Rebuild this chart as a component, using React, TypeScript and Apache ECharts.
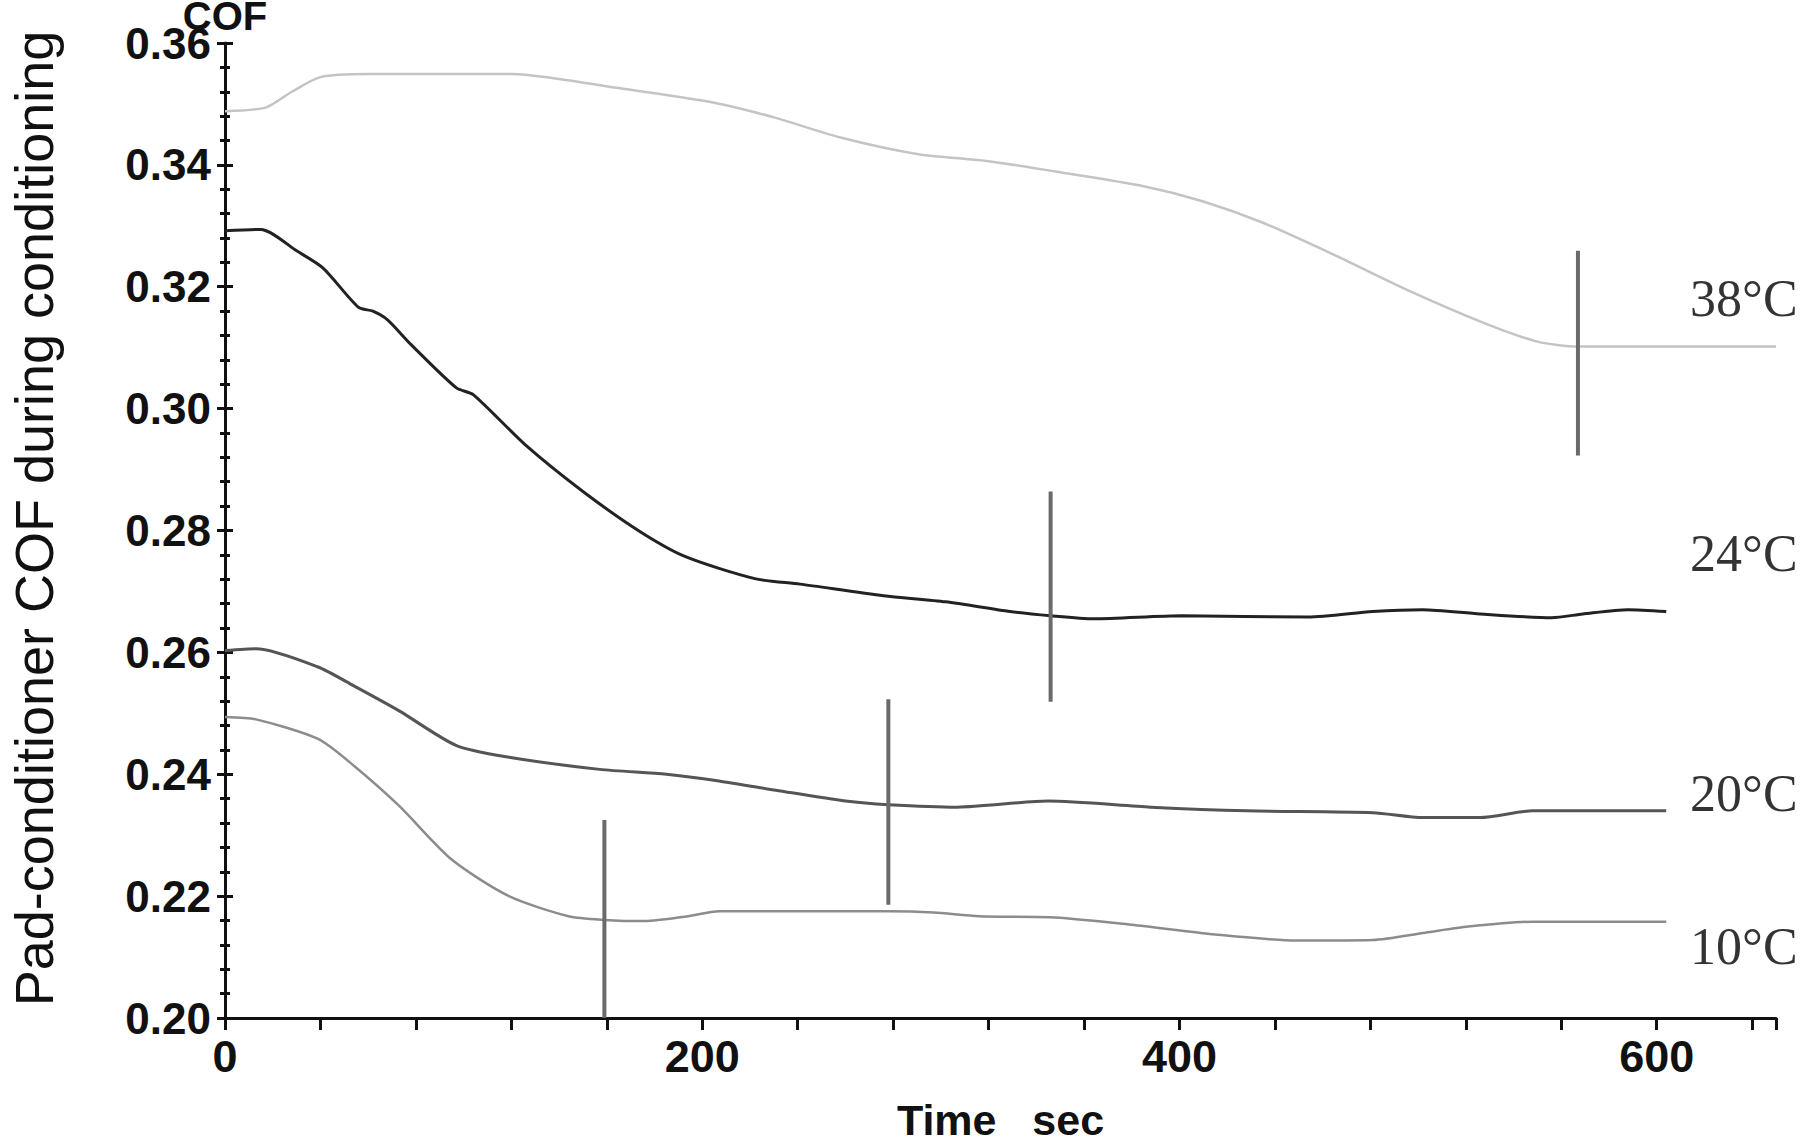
import React, { useEffect, useRef } from "react";
import * as echarts from "echarts";

// ---- data ----
const X38 = [0, 17, 28, 40, 60, 120, 140, 165, 205, 230, 258, 290, 320, 350, 385, 410, 435, 465, 497, 528, 550, 567, 600, 650];
const V38 = [0.3488, 0.3494, 0.3520, 0.3544, 0.3549, 0.3549, 0.3541, 0.3526, 0.3502, 0.3478, 0.3445, 0.3418, 0.3406, 0.3388, 0.3365, 0.3340, 0.3305, 0.3252, 0.3192, 0.3140, 0.3110, 0.3102, 0.3102, 0.3102];

const X24 = [0, 15, 30, 41, 56, 62, 68, 78, 97, 104, 126, 150, 174, 193, 222, 241, 276, 302, 329, 346, 364, 401, 454, 481, 502, 526, 556, 569, 588, 604];
const V24 = [0.3292, 0.3294, 0.3259, 0.3231, 0.3166, 0.3160, 0.3146, 0.3105, 0.3034, 0.3023, 0.2940, 0.2864, 0.2798, 0.2757, 0.2721, 0.2712, 0.2693, 0.2683, 0.2667, 0.2660, 0.2655, 0.2660, 0.2658, 0.2667, 0.2670, 0.2663, 0.2657, 0.2663, 0.2670, 0.2667];

const X20 = [0, 13, 39, 54, 73, 97, 119, 157, 185, 207, 232, 260, 278, 307, 345, 388, 428, 481, 502, 526, 548, 604];
const V20 = [0.2603, 0.2606, 0.2576, 0.2545, 0.2504, 0.2447, 0.2428, 0.2408, 0.2400, 0.2389, 0.2373, 0.2356, 0.2350, 0.2346, 0.2356, 0.2346, 0.2340, 0.2337, 0.2329, 0.2329, 0.2340, 0.2340];

const X10 = [0, 13, 39, 54, 73, 95, 119, 144, 159, 176, 194, 207, 241, 278, 297, 316, 348, 380, 415, 449, 481, 503, 521, 548, 604];
const V10 = [0.2494, 0.2490, 0.2458, 0.2414, 0.2348, 0.2260, 0.2200, 0.2167, 0.2161, 0.2159, 0.2167, 0.2175, 0.2175, 0.2175, 0.2173, 0.2167, 0.2165, 0.2153, 0.2137, 0.2127, 0.2128, 0.2140, 0.2150, 0.2158, 0.2158];

// vertical markers: x, top value, bottom value
const MARK_X = [567, 346, 278, 159];
const MARK_TOP = [0.3259, 0.2864, 0.2523, 0.2325];
const MARK_BOTTOM = [0.2923, 0.2519, 0.2186, 0.2];

// curve labels
const LABEL_TEXT = ["38°C", "24°C", "20°C", "10°C"];
const LABEL_X = [614, 614, 614, 614];
const LABEL_V = [0.3180, 0.2763, 0.2368, 0.2117];

const X_TICK_LABELS = [0, 200, 400, 600];

const zip = (xs: number[], vs: number[]) => xs.map((x, i) => [x, vs[i]]);

export default function App() {
  const ref = useRef<HTMLDivElement>(null);
  useEffect(() => {
    if (!ref.current) return;
    const chart = echarts.init(ref.current, undefined, { renderer: "svg" });
    const axisColor = "#111111";
    const curve = (name: string, xs: number[], vs: number[], color: string, width: number) => ({
      name,
      type: "line",
      data: zip(xs, vs),
      showSymbol: false,
      symbol: "none",
      smooth: 0.25,
      lineStyle: { color, width },
      z: 3,
    });
    const markers = MARK_X.map((x, i) => ({
      name: "marker " + LABEL_TEXT[i],
      type: "line",
      data: [
        [x, MARK_TOP[i]],
        [x, MARK_BOTTOM[i]],
      ],
      symbol: "none",
      lineStyle: { color: "#6a6a6a", width: 4 },
      z: 4,
    }));
    const yBase = {
      type: "value",
      min: 0.2,
      max: 0.36,
      interval: 0.02,
      splitLine: { show: false },
    };
    chart.setOption({
      animation: false,
      backgroundColor: "#ffffff",
      grid: { left: 225, right: 24, top: 43, bottom: 124, containLabel: false, outerBoundsMode: "none" },
      xAxis: {
        type: "value",
        min: 0,
        max: 650,
        interval: 40,
        name: "Time   sec",
        nameLocation: "middle",
        nameGap: 80,
        nameMoveOverlap: false,
        nameTextStyle: { fontFamily: "Liberation Sans", fontWeight: "bold", fontSize: 43, color: "#111111" },
        axisLine: { show: true, lineStyle: { color: axisColor, width: 3 } },
        axisTick: { show: true, length: 12, lineStyle: { color: axisColor, width: 3 } },
        splitLine: { show: false },
        axisLabel: {
          margin: 16,
          fontFamily: "Liberation Sans",
          fontWeight: "bold",
          fontSize: 45,
          color: "#111111",
          formatter: (v: number) => (X_TICK_LABELS.includes(v) ? String(v) : ""),
        },
      },
      yAxis: [
        {
          ...yBase,
          name: "COF",
          nameLocation: "end",
          nameGap: 7,
          nameMoveOverlap: false,
          nameTextStyle: { fontFamily: "Liberation Sans", fontWeight: "bold", fontSize: 40, color: "#111111", align: "center", verticalAlign: "bottom" },
          axisLine: { show: true, lineStyle: { color: axisColor, width: 3 } },
          axisTick: { show: true, length: 8, lineStyle: { color: axisColor, width: 3 } },
          minorTick: { show: true, splitNumber: 5, length: 5, lineStyle: { color: axisColor, width: 3 } },
          axisLabel: {
            margin: 14,
            fontFamily: "Liberation Sans",
            fontWeight: "bold",
            fontSize: 44,
            color: "#111111",
            formatter: (v: number) => v.toFixed(2),
          },
        },
        {
          ...yBase,
          position: "left",
          name: "Pad-conditioner COF during conditioning",
          nameLocation: "middle",
          nameRotate: 90,
          nameGap: 164,
          nameMoveOverlap: false,
          nameTextStyle: { fontFamily: "Liberation Sans", fontSize: 54, color: "#111111", padding: [0, 0, 0, 24] },
          axisLine: { show: false },
          axisTick: { show: true, inside: true, length: 8, lineStyle: { color: axisColor, width: 3 } },
          minorTick: { show: true, splitNumber: 5, length: 5, lineStyle: { color: axisColor, width: 3 } },
          axisLabel: { show: false },
        },
      ],
      series: [
        curve("38°C", X38, V38, "#c4c4c4", 2.5),
        curve("24°C", X24, V24, "#222222", 3),
        curve("20°C", X20, V20, "#555555", 3),
        curve("10°C", X10, V10, "#8c8c8c", 2.5),
        ...markers,
        {
          name: "labels",
          type: "scatter",
          symbolSize: 0,
          data: LABEL_X.map((x, i) => [x, LABEL_V[i], LABEL_TEXT[i]]),
          label: {
            show: true,
            position: "right",
            distance: 0,
            formatter: (p: any) => p.data[2],
            fontFamily: "Liberation Serif",
            fontSize: 52,
            color: "#000000",
          },
          z: 5,
        },
      ],
    });
    return () => chart.dispose();
  }, []);
  return (
    <div
      ref={ref}
      style={{ position: "fixed", left: 0, top: 0, width: 1800, height: 1142, background: "#fff" }}
    />
  );
}
